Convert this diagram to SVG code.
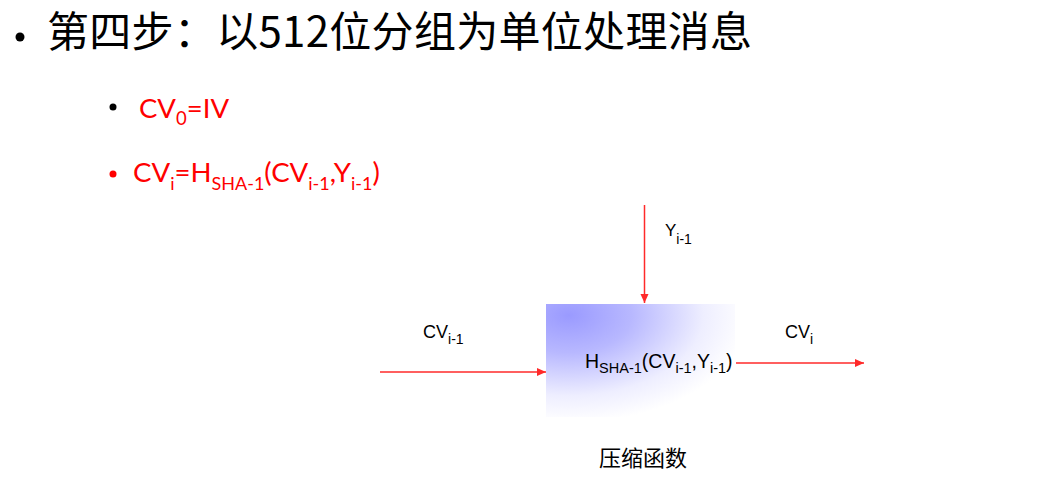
<svg xmlns="http://www.w3.org/2000/svg" width="1051" height="494" viewBox="0 0 1051 494">
  <style>
    .title { font-family: "Noto Sans CJK SC", "Noto Sans", sans-serif; font-size: 42px; fill: #000; }
    .red { font-family: Lato, "Liberation Sans", sans-serif; fill: #ff0000; }
    .lbl { font-family: "Liberation Sans", Arial, sans-serif; fill: #000; }
    .cjk { font-family: "Noto Sans CJK SC", sans-serif; fill: #000; }
    .arrow { stroke: #ff2a2a; stroke-width: 1.5; fill: none; }
  </style>
  <defs>
    <marker id="ah" markerWidth="10" markerHeight="10" refX="9" refY="5" orient="auto" markerUnits="userSpaceOnUse">
      <path d="M0,1 L9,5 L0,9 Z" fill="#ff2a2a"/>
    </marker>
    <radialGradient id="boxg" cx="0.12" cy="0.1" r="0.95" fx="0.12" fy="0.1">
      <stop offset="0" stop-color="#9a9aff"/>
      <stop offset="0.35" stop-color="#b8b8ff"/>
      <stop offset="0.75" stop-color="#eeeeff"/>
      <stop offset="1" stop-color="#ffffff"/>
    </radialGradient>
    <linearGradient id="edge" x1="0" y1="0" x2="0" y2="1">
      <stop offset="0" stop-color="#8c8ce8"/>
      <stop offset="0.6" stop-color="#c8c8f4"/>
      <stop offset="1" stop-color="#ffffff"/>
    </linearGradient>
  </defs>
  <rect width="1051" height="494" fill="#ffffff"/>

  <g id="title">
    <circle cx="20" cy="37" r="4.5" fill="#000"/>
    <text class="title" x="47" y="47" textLength="705" lengthAdjust="spacing">第四步：以512位分组为单位处理消息</text>
  </g>

  <g id="line-cv0">
    <circle cx="113" cy="107" r="3.5" fill="#000"/>
    <text class="red" x="139" y="118" font-size="27.5">CV<tspan font-size="18.5" dy="7">0</tspan><tspan dy="-7">=IV</tspan></text>
  </g>

  <g id="line-cvi">
    <circle cx="113" cy="174" r="3.5" fill="#ff0000"/>
    <text class="red" x="133" y="182" font-size="27.6">CV<tspan font-size="18" dy="8">i</tspan><tspan dy="-8">=H</tspan><tspan font-size="18" dy="8">SHA-1</tspan><tspan dy="-8">(CV</tspan><tspan font-size="18" dy="8">i-1</tspan><tspan dy="-8">,Y</tspan><tspan font-size="18" dy="8">i-1</tspan><tspan dy="-8">)</tspan></text>
  </g>

  <g id="node-compress">
    <rect x="546" y="304" width="189" height="113" fill="url(#boxg)"/>
    <line x1="735" y1="304" x2="735" y2="412" stroke="url(#edge)" stroke-width="1.2"/>
    <text class="lbl" x="585" y="368" font-size="19.5">H<tspan font-size="14.5" dy="5">SHA-1</tspan><tspan dy="-5">(CV</tspan><tspan font-size="14.5" dy="5">i-1</tspan><tspan dy="-5">,Y</tspan><tspan font-size="14.5" dy="5">i-1</tspan><tspan dy="-5">)</tspan></text>
    <text class="cjk" x="599" y="466" font-size="22">压缩函数</text>
  </g>

  <g id="connectors">
    <line class="arrow" x1="644.5" y1="205" x2="644.5" y2="303" marker-end="url(#ah)"/>
    <line class="arrow" x1="380" y1="372" x2="546" y2="372" marker-end="url(#ah)"/>
    <line class="arrow" x1="736" y1="363" x2="864" y2="363" marker-end="url(#ah)"/>
  </g>

  <g id="labels">
    <text class="lbl" x="665" y="236" font-size="17">Y<tspan font-size="14" dy="8">i-1</tspan></text>
    <text class="lbl" x="423" y="338" font-size="18">CV<tspan font-size="14" dy="6">i-1</tspan></text>
    <text class="lbl" x="785" y="338" font-size="18">CV<tspan font-size="14" dy="6">i</tspan></text>
  </g>
</svg>
